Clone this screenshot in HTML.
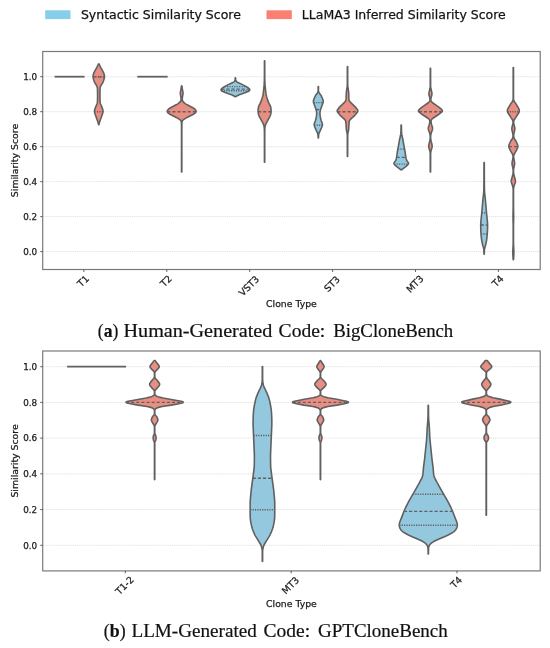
<!DOCTYPE html>
<html lang="en"><head><meta charset="utf-8"><title>Similarity score violin plots</title>
<style>html,body{margin:0;padding:0;background:#fff}svg{display:block}</style></head>
<body>
<svg width="550" height="648" viewBox="0 0 550 648">
<style>
text{font-family:"DejaVu Sans","Liberation Sans",sans-serif;fill:#1a1a1a;stroke:#1a1a1a;stroke-width:0.25px}
.tk{font-size:8.8px}
.tx{font-size:9.4px}
.al{font-size:9.5px}
.lg{font-size:12.5px;fill:#111}
.cap{font-family:"Liberation Serif","DejaVu Serif",serif;font-size:19px;fill:#111;stroke:#111;stroke-width:0.2px}
.cap .b{font-weight:bold}
</style>
<rect width="550" height="648" fill="#fff"/>
<rect x="45.2" y="10.3" width="25.3" height="8.8" fill="#87CEEB"/>
<text class="lg" x="80.9" y="19.3">Syntactic Similarity Score</text>
<rect x="266.5" y="10.3" width="25.3" height="8.8" fill="#FA8072"/>
<text class="lg" x="301.8" y="19.3">LLaMA3 Inferred Similarity Score</text>
<line x1="42.7" y1="251.60" x2="540.2" y2="251.60" stroke="#dedede" stroke-width="0.9" stroke-dasharray="1.1,0.8"/>
<line x1="42.7" y1="216.62" x2="540.2" y2="216.62" stroke="#dedede" stroke-width="0.9" stroke-dasharray="1.1,0.8"/>
<line x1="42.7" y1="181.64" x2="540.2" y2="181.64" stroke="#dedede" stroke-width="0.9" stroke-dasharray="1.1,0.8"/>
<line x1="42.7" y1="146.66" x2="540.2" y2="146.66" stroke="#dedede" stroke-width="0.9" stroke-dasharray="1.1,0.8"/>
<line x1="42.7" y1="111.68" x2="540.2" y2="111.68" stroke="#dedede" stroke-width="0.9" stroke-dasharray="1.1,0.8"/>
<line x1="42.7" y1="76.70" x2="540.2" y2="76.70" stroke="#dedede" stroke-width="0.9" stroke-dasharray="1.1,0.8"/>
<line x1="54.56" y1="76.70" x2="84.56" y2="76.70" stroke="#606060" stroke-width="1.8"/>
<path d="M98.56,124.59L98.30,123.39L97.75,121.59L96.23,117.19L94.90,113.58L94.58,112.38L94.46,111.38L94.53,110.38L94.79,109.38L95.60,107.18L97.06,103.78L97.39,102.58L97.50,100.38L97.57,95.78L97.53,91.38L97.42,88.18L97.22,87.18L96.74,85.97L96.21,84.97L94.99,83.17L94.06,80.97L93.64,79.77L93.30,78.57L93.11,77.57L93.04,76.57L93.08,75.77L93.21,74.97L93.42,74.17L93.77,73.17L94.53,71.57L97.24,66.57L97.95,64.97L98.25,63.97L99.26,63.97L99.57,64.97L100.27,66.57L102.99,71.57L103.74,73.17L104.10,74.17L104.31,74.97L104.43,75.77L104.47,76.57L104.40,77.57L104.22,78.57L103.88,79.77L103.46,80.97L102.53,83.17L101.31,84.97L100.77,85.97L100.30,87.18L100.10,88.18L99.99,91.38L99.95,95.78L100.01,100.38L100.13,102.58L100.45,103.78L101.92,107.18L102.73,109.38L102.99,110.38L103.05,111.38L102.93,112.38L102.62,113.58L101.29,117.19L99.76,121.59L99.22,123.39L98.96,124.59Z" fill="#e98e83" stroke="#606060" stroke-width="1.6" stroke-linejoin="round"/>
<line x1="94.48" y1="111.68" x2="103.03" y2="111.68" stroke="#606060" stroke-width="1.4" stroke-dasharray="1.2,1.2"/>
<line x1="93.05" y1="76.87" x2="104.46" y2="76.87" stroke="#606060" stroke-width="1.4" stroke-dasharray="3.1,2.0"/>
<line x1="93.05" y1="76.70" x2="104.47" y2="76.70" stroke="#606060" stroke-width="1.4" stroke-dasharray="1.2,1.2"/>
<line x1="137.28" y1="76.70" x2="167.67" y2="76.70" stroke="#606060" stroke-width="1.8"/>
<path d="M181.52,172.07L181.52,125.24L181.46,123.24L181.28,121.64L180.96,120.84L180.50,120.24L179.82,119.64L178.68,118.84L176.29,117.43L169.95,114.23L168.65,113.43L168,112.83L167.54,112.23L167.27,111.63L167.23,111.23L167.40,110.63L167.77,110.03L168.49,109.23L169.21,108.63L170.11,108.03L171.50,107.23L176.15,104.83L177.85,103.82L178.67,103.22L179.60,102.42L180.33,101.62L180.72,101.02L180.90,100.62L181.07,100.02L181.12,99.02L180.84,96.62L180.39,94.02L180.32,92.82L180.44,91.82L181.09,88.61L181.50,85.81L181.85,85.81L182.26,88.61L182.91,91.82L183.03,92.82L182.96,94.02L182.51,96.62L182.23,99.02L182.28,100.02L182.45,100.62L182.63,101.02L183.02,101.62L183.75,102.42L184.68,103.22L185.50,103.82L187.20,104.83L191.85,107.23L193.24,108.03L194.14,108.63L194.86,109.23L195.58,110.03L195.95,110.63L196.12,111.23L196.08,111.63L195.81,112.23L195.35,112.83L194.70,113.43L193.40,114.23L187.06,117.43L184.67,118.84L183.53,119.64L182.85,120.24L182.39,120.84L182.07,121.64L181.89,123.24L181.83,125.24L181.82,172.07Z" fill="#e98e83" stroke="#606060" stroke-width="1.6" stroke-linejoin="round"/>
<line x1="167.29" y1="111.68" x2="196.06" y2="111.68" stroke="#606060" stroke-width="1.4" stroke-dasharray="3.1,2.0"/>
<path d="M234.88,96.60L234.04,96L231.59,94.79L230.03,94.19L225.21,92.58L222.84,91.57L221.81,90.97L221.33,90.57L221.07,90.16L221.02,89.76L221.26,89.16L221.77,88.55L222.51,87.95L224.03,86.94L225.39,86.14L227.27,85.13L232.82,82.52L233.86,81.91L234.38,81.51L234.73,81.11L235,80.51L235.18,79.30L235.24,77.89L235.55,77.89L235.61,79.30L235.78,80.51L236.05,81.11L236.40,81.51L236.93,81.91L237.96,82.52L243.51,85.13L245.40,86.14L246.75,86.94L248.27,87.95L249.01,88.55L249.52,89.16L249.76,89.76L249.72,90.16L249.45,90.57L248.97,90.97L247.94,91.57L245.57,92.58L240.75,94.19L239.20,94.79L236.75,96L235.91,96.60Z" fill="#93c8de" stroke="#606060" stroke-width="1.6" stroke-linejoin="round"/>
<line x1="221.46" y1="90.69" x2="249.32" y2="90.69" stroke="#606060" stroke-width="1.4" stroke-dasharray="1.2,1.2"/>
<line x1="221.29" y1="89.12" x2="249.49" y2="89.12" stroke="#606060" stroke-width="1.4" stroke-dasharray="3.1,2.0"/>
<line x1="224.62" y1="86.58" x2="246.16" y2="86.58" stroke="#606060" stroke-width="1.4" stroke-dasharray="1.2,1.2"/>
<path d="M264.44,162.30L264.44,132.87L264.36,129.27L264.20,127.27L263.86,125.47L263.34,124.07L262.13,121.67L259.60,117.06L258.87,115.46L258.56,114.46L258.29,113.26L258.12,112.06L258.05,110.86L258.19,108.66L258.54,106.85L259.02,105.65L260.32,103.25L261.31,100.65L262.24,97.85L262.71,96.25L263.06,94.64L263.33,92.84L264.10,85.64L264.35,80.83L264.44,76.63L264.44,60.82L264.74,60.82L264.74,76.63L264.83,80.83L265.08,85.64L265.86,92.84L266.13,94.64L266.47,96.25L266.94,97.85L267.88,100.65L268.87,103.25L270.17,105.65L270.65,106.85L270.99,108.66L271.13,110.86L271.06,112.06L270.89,113.26L270.63,114.46L270.31,115.46L269.59,117.06L267.05,121.67L265.84,124.07L265.33,125.47L264.98,127.27L264.82,129.27L264.75,132.87L264.74,162.30Z" fill="#e98e83" stroke="#606060" stroke-width="1.6" stroke-linejoin="round"/>
<line x1="258.09" y1="111.68" x2="271.10" y2="111.68" stroke="#606060" stroke-width="1.4" stroke-dasharray="3.1,2.0"/>
<path d="M318.16,137.97L317.97,134.96L317.85,134.16L317.65,133.36L317.26,132.36L316.36,130.56L314.74,126.96L314.38,125.95L314.21,125.15L314.19,124.35L314.32,123.55L315.56,120.15L316.09,117.95L316.57,115.14L316.69,112.94L316.58,111.74L316.25,110.34L314.90,106.33L313.74,103.33L313.49,102.33L313.42,101.53L313.48,100.73L313.70,99.73L314.13,98.52L314.76,97.12L315.87,94.92L317.46,92.92L317.97,91.92L318.11,91.32L318.15,90.72L318.16,86.51L318.46,86.51L318.47,90.72L318.51,91.32L318.65,91.92L319.16,92.92L320.75,94.92L321.85,97.12L322.48,98.52L322.91,99.73L323.14,100.73L323.20,101.53L323.13,102.33L322.88,103.33L321.72,106.33L320.36,110.34L320.04,111.74L319.93,112.94L320.05,115.14L320.53,117.95L321.05,120.15L322.29,123.55L322.43,124.35L322.41,125.15L322.24,125.95L321.88,126.96L320.25,130.56L319.36,132.36L318.97,133.36L318.76,134.16L318.64,134.96L318.46,137.97Z" fill="#93c8de" stroke="#606060" stroke-width="1.6" stroke-linejoin="round"/>
<line x1="314.23" y1="125.32" x2="322.38" y2="125.32" stroke="#606060" stroke-width="1.4" stroke-dasharray="1.2,1.2"/>
<line x1="316.02" y1="109.58" x2="320.60" y2="109.58" stroke="#606060" stroke-width="1.4" stroke-dasharray="3.1,2.0"/>
<line x1="313.54" y1="102.59" x2="323.08" y2="102.59" stroke="#606060" stroke-width="1.4" stroke-dasharray="1.2,1.2"/>
<path d="M347.36,156.45L347.31,135.01L347.08,133.01L346.47,130L346.28,128.80L345.97,123.19L345.79,121.59L345.45,120.59L344.79,119.59L343.82,118.58L341.24,116.38L339.91,114.98L337.64,112.17L337.31,111.57L337.16,110.97L337.25,110.37L337.53,109.77L338.72,108.16L340.34,106.36L342.15,104.56L343.92,102.95L344.71,102.15L345.20,101.55L345.58,100.95L345.97,99.95L346.12,98.75L346.31,92.53L347.10,86.92L347.33,84.32L347.36,66.49L347.66,66.49L347.69,84.32L347.91,86.92L348.71,92.53L348.90,98.75L349.05,99.95L349.44,100.95L349.82,101.55L350.31,102.15L351.10,102.95L352.86,104.56L354.67,106.36L356.30,108.16L357.49,109.77L357.77,110.37L357.85,110.97L357.71,111.57L357.37,112.17L355.11,114.98L353.78,116.38L351.19,118.58L350.22,119.59L349.57,120.59L349.22,121.59L349.04,123.19L348.74,128.80L348.55,130L347.93,133.01L347.71,135.01L347.66,156.45Z" fill="#e98e83" stroke="#606060" stroke-width="1.6" stroke-linejoin="round"/>
<line x1="337.36" y1="111.68" x2="357.66" y2="111.68" stroke="#606060" stroke-width="1.4" stroke-dasharray="3.1,2.0"/>
<path d="M400.45,169.66L400.13,169.26L399.69,168.86L396.42,166.45L395.29,165.44L394.24,164.24L393.96,163.64L393.93,163.24L394.14,162.63L395.23,161.23L395.70,160.43L396.21,159.02L396.55,157.61L397.47,151.19L398.57,145.37L399.67,138.95L400.50,135.53L400.77,134.13L400.89,132.92L400.96,131.32L401.07,125.09L401.38,125.09L401.49,131.32L401.56,132.92L401.68,134.13L401.95,135.53L402.78,138.95L403.88,145.37L404.98,151.19L405.90,157.61L406.24,159.02L406.75,160.43L407.22,161.23L408.31,162.63L408.52,163.24L408.49,163.64L408.21,164.24L407.16,165.44L406.03,166.45L402.76,168.86L402.32,169.26L402,169.66Z" fill="#93c8de" stroke="#606060" stroke-width="1.6" stroke-linejoin="round"/>
<line x1="394.19" y1="164.15" x2="408.26" y2="164.15" stroke="#606060" stroke-width="1.4" stroke-dasharray="1.2,1.2"/>
<line x1="396.60" y1="157.33" x2="405.85" y2="157.33" stroke="#606060" stroke-width="1.4" stroke-dasharray="3.1,2.0"/>
<line x1="397.86" y1="149.11" x2="404.59" y2="149.11" stroke="#606060" stroke-width="1.4" stroke-dasharray="1.2,1.2"/>
<path d="M430.27,172.04L430.22,153.02L429.95,151.22L428.89,147.82L428.73,147.01L428.69,146.41L428.85,144.81L429.72,141.21L430.03,139.61L430.20,138.01L430.23,136.40L430.11,135.20L429.88,134L429.53,132.80L428.53,130L428.35,129.20L428.29,128.60L428.32,128L428.46,127.20L429.32,124.39L429.66,122.99L429.82,121.79L429.79,120.79L429.62,120.19L429.30,119.59L428.80,118.99L428.37,118.59L427.56,117.99L422.66,114.78L420.21,112.98L419.46,112.38L418.85,111.78L418.59,111.38L418.47,110.98L418.51,110.58L418.69,110.18L418.99,109.78L419.58,109.18L422.01,107.18L424.93,105.17L428.26,102.77L429.27,101.77L429.66,101.17L429.90,100.57L430.03,99.77L429.94,98.57L429.69,97.37L429.01,94.96L428.89,93.76L429.06,92.36L430,88.56L430.25,86.56L430.28,68.34L430.57,68.34L430.60,86.56L430.85,88.56L431.79,92.36L431.96,93.76L431.84,94.96L431.16,97.37L430.91,98.57L430.82,99.77L430.95,100.57L431.19,101.17L431.58,101.77L432.59,102.77L435.92,105.17L438.84,107.18L441.27,109.18L441.86,109.78L442.16,110.18L442.34,110.58L442.38,110.98L442.26,111.38L442,111.78L441.39,112.38L440.64,112.98L438.19,114.78L433.29,117.99L432.48,118.59L432.05,118.99L431.55,119.59L431.23,120.19L431.06,120.79L431.03,121.79L431.19,122.99L431.53,124.39L432.39,127.20L432.53,128L432.56,128.60L432.50,129.20L432.32,130L431.32,132.80L430.97,134L430.74,135.20L430.62,136.40L430.65,138.01L430.82,139.61L431.13,141.21L432,144.81L432.16,146.41L432.12,147.01L431.96,147.82L430.90,151.22L430.63,153.02L430.58,172.04Z" fill="#e98e83" stroke="#606060" stroke-width="1.6" stroke-linejoin="round"/>
<line x1="418.78" y1="111.68" x2="442.07" y2="111.68" stroke="#606060" stroke-width="1.4" stroke-dasharray="3.1,2.0"/>
<path d="M483.99,254.15L483.90,250.55L483.75,248.95L483.49,247.74L482.79,245.54L482.54,244.54L481.76,240.53L481.32,237.73L480.84,231.52L480.68,226.32L480.74,223.91L480.93,221.11L481.70,213.50L482.98,198.88L483.60,193.47L483.82,190.67L483.94,180.85L483.99,162.63L484.29,162.63L484.34,180.85L484.47,190.67L484.69,193.47L485.30,198.88L486.58,213.50L487.35,221.11L487.55,223.91L487.61,226.32L487.44,231.52L486.96,237.73L486.53,240.53L485.74,244.54L485.49,245.54L484.79,247.74L484.53,248.95L484.38,250.55L484.29,254.15Z" fill="#93c8de" stroke="#606060" stroke-width="1.6" stroke-linejoin="round"/>
<line x1="481.00" y1="233.94" x2="487.28" y2="233.94" stroke="#606060" stroke-width="1.4" stroke-dasharray="1.2,1.2"/>
<line x1="480.69" y1="225.02" x2="487.59" y2="225.02" stroke="#606060" stroke-width="1.4" stroke-dasharray="3.1,2.0"/>
<line x1="481.77" y1="212.77" x2="486.52" y2="212.77" stroke="#606060" stroke-width="1.4" stroke-dasharray="1.2,1.2"/>
<path d="M513.18,259.75L512.89,255.15L512.80,251.75L512.86,249.74L513.14,245.14L513.19,243.14L513.19,225.53L512.98,216.72L513.19,206.72L513.19,189.70L513.09,188.30L512.84,186.90L512.45,185.50L511.49,182.70L511.32,181.90L511.28,181.30L511.32,180.50L511.50,179.50L512.48,176.09L512.81,174.69L513.14,172.29L513.18,170.69L513.06,169.29L512.83,167.89L512.15,164.89L512,163.49L512.13,162.09L512.91,158.48L513.03,157.48L513.05,156.48L512.91,155.48L512.58,154.48L512.18,153.68L510.99,151.68L509.35,148.48L508.97,147.48L508.81,146.48L508.84,145.87L509,145.07L509.60,143.47L510.74,141.07L511.98,139.27L512.47,138.47L512.81,137.67L512.97,137.07L513.05,135.87L512.93,134.47L512.68,133.07L511.97,130.06L511.82,128.66L511.99,127.26L512.86,123.86L513.01,122.86L513.05,121.86L512.89,120.86L512.57,120.06L512.10,119.26L511.14,117.86L510.06,116.05L508.08,113.05L507.54,111.85L507.37,110.85L507.41,110.25L507.55,109.65L508.03,108.45L510.71,103.85L512.44,101.45L512.91,100.44L513.14,99.44L513.19,98.04L513.19,67.62L513.49,67.62L513.49,98.04L513.54,99.44L513.77,100.44L514.24,101.45L515.97,103.85L518.65,108.45L519.14,109.65L519.27,110.25L519.31,110.85L519.15,111.85L518.61,113.05L516.63,116.05L515.55,117.86L514.58,119.26L514.11,120.06L513.79,120.86L513.64,121.86L513.67,122.86L513.82,123.86L514.69,127.26L514.86,128.66L514.72,130.06L514,133.07L513.75,134.47L513.63,135.87L513.72,137.07L513.88,137.67L514.22,138.47L514.70,139.27L515.95,141.07L517.08,143.47L517.68,145.07L517.85,145.87L517.88,146.48L517.72,147.48L517.33,148.48L515.70,151.68L514.50,153.68L514.10,154.48L513.77,155.48L513.63,156.48L513.66,157.48L513.77,158.48L514.55,162.09L514.68,163.49L514.53,164.89L513.85,167.89L513.62,169.29L513.51,170.69L513.54,172.29L513.88,174.69L514.21,176.09L515.18,179.50L515.36,180.50L515.41,181.30L515.36,181.90L515.19,182.70L514.24,185.50L513.84,186.90L513.59,188.30L513.50,189.70L513.50,206.72L513.70,216.72L513.50,225.53L513.49,243.14L513.54,245.14L513.83,249.74L513.88,251.75L513.80,255.15L513.51,259.75Z" fill="#e98e83" stroke="#606060" stroke-width="1.6" stroke-linejoin="round"/>
<line x1="512.04" y1="164.15" x2="514.64" y2="164.15" stroke="#606060" stroke-width="1.4" stroke-dasharray="1.2,1.2"/>
<line x1="508.82" y1="146.66" x2="517.87" y2="146.66" stroke="#606060" stroke-width="1.4" stroke-dasharray="3.1,2.0"/>
<line x1="507.49" y1="111.68" x2="519.20" y2="111.68" stroke="#606060" stroke-width="1.4" stroke-dasharray="1.2,1.2"/>
<rect x="42.7" y="51.5" width="497.50000000000006" height="218.0" fill="none" stroke="#7a7a7a" stroke-width="1.2"/>
<line x1="40.300000000000004" y1="251.60" x2="42.7" y2="251.60" stroke="#5a5a5a" stroke-width="1"/>
<text x="37.2" y="254.80" text-anchor="end" class="tk">0.0</text>
<line x1="40.300000000000004" y1="216.62" x2="42.7" y2="216.62" stroke="#5a5a5a" stroke-width="1"/>
<text x="37.2" y="219.82" text-anchor="end" class="tk">0.2</text>
<line x1="40.300000000000004" y1="181.64" x2="42.7" y2="181.64" stroke="#5a5a5a" stroke-width="1"/>
<text x="37.2" y="184.84" text-anchor="end" class="tk">0.4</text>
<line x1="40.300000000000004" y1="146.66" x2="42.7" y2="146.66" stroke="#5a5a5a" stroke-width="1"/>
<text x="37.2" y="149.86" text-anchor="end" class="tk">0.6</text>
<line x1="40.300000000000004" y1="111.68" x2="42.7" y2="111.68" stroke="#5a5a5a" stroke-width="1"/>
<text x="37.2" y="114.88" text-anchor="end" class="tk">0.8</text>
<line x1="40.300000000000004" y1="76.70" x2="42.7" y2="76.70" stroke="#5a5a5a" stroke-width="1"/>
<text x="37.2" y="79.90" text-anchor="end" class="tk">1.0</text>
<line x1="83.86" y1="269.5" x2="83.86" y2="271.9" stroke="#5a5a5a" stroke-width="1"/>
<text class="tx" text-anchor="middle" transform="translate(83.06,280.90) rotate(-45)" dy="3.4">T1</text>
<line x1="166.77" y1="269.5" x2="166.77" y2="271.9" stroke="#5a5a5a" stroke-width="1"/>
<text class="tx" text-anchor="middle" transform="translate(165.97,280.90) rotate(-45)" dy="3.4">T2</text>
<line x1="249.69" y1="269.5" x2="249.69" y2="271.9" stroke="#5a5a5a" stroke-width="1"/>
<text class="tx" text-anchor="middle" transform="translate(248.89,285.90) rotate(-45)" dy="3.4">VST3</text>
<line x1="332.61" y1="269.5" x2="332.61" y2="271.9" stroke="#5a5a5a" stroke-width="1"/>
<text class="tx" text-anchor="middle" transform="translate(331.81,283.90) rotate(-45)" dy="3.4">ST3</text>
<line x1="415.52" y1="269.5" x2="415.52" y2="271.9" stroke="#5a5a5a" stroke-width="1"/>
<text class="tx" text-anchor="middle" transform="translate(414.72,283.90) rotate(-45)" dy="3.4">MT3</text>
<line x1="498.44" y1="269.5" x2="498.44" y2="271.9" stroke="#5a5a5a" stroke-width="1"/>
<text class="tx" text-anchor="middle" transform="translate(497.64,280.90) rotate(-45)" dy="3.4">T4</text>
<text class="al" text-anchor="middle" transform="translate(18.2,160.50) rotate(-90)" textLength="73.3" lengthAdjust="spacingAndGlyphs">Similarity Score</text>
<text class="al" text-anchor="middle" x="291.45" y="306.8" textLength="50.7" lengthAdjust="spacingAndGlyphs">Clone Type</text>
<line x1="42.7" y1="545.30" x2="540.2" y2="545.30" stroke="#dedede" stroke-width="0.9" stroke-dasharray="1.1,0.8"/>
<line x1="42.7" y1="509.58" x2="540.2" y2="509.58" stroke="#dedede" stroke-width="0.9" stroke-dasharray="1.1,0.8"/>
<line x1="42.7" y1="473.86" x2="540.2" y2="473.86" stroke="#dedede" stroke-width="0.9" stroke-dasharray="1.1,0.8"/>
<line x1="42.7" y1="438.14" x2="540.2" y2="438.14" stroke="#dedede" stroke-width="0.9" stroke-dasharray="1.1,0.8"/>
<line x1="42.7" y1="402.42" x2="540.2" y2="402.42" stroke="#dedede" stroke-width="0.9" stroke-dasharray="1.1,0.8"/>
<line x1="42.7" y1="366.70" x2="540.2" y2="366.70" stroke="#dedede" stroke-width="0.9" stroke-dasharray="1.1,0.8"/>
<line x1="67.12" y1="366.70" x2="126.12" y2="366.70" stroke="#606060" stroke-width="1.8"/>
<path d="M154.47,479.59L154.46,442.96L154.31,441.96L153.65,440.56L153.43,439.96L153.22,438.96L153.14,437.96L153.20,436.95L153.39,435.95L153.59,435.35L154.21,434.15L154.43,433.35L154.46,426.95L154.36,426.14L154.11,425.34L153.69,424.54L152.65,422.94L151.78,421.34L151.46,420.54L151.34,419.74L151.54,418.74L152.17,417.34L152.67,416.54L153.97,414.93L154.34,414.13L154.46,413.33L154.46,410.93L154.43,410.33L154.28,409.73L154.05,409.33L153.70,408.93L152.89,408.33L151.69,407.73L149.87,407.13L147.07,406.53L138.12,405.13L130.29,403.72L128.43,403.32L127,402.92L126.17,402.52L126.02,402.32L126.05,402.12L126.27,401.92L126.66,401.72L127.90,401.32L129.63,400.92L146.22,397.92L149.85,397.12L151.15,396.72L152.61,396.12L153.62,395.52L154.19,394.92L154.42,394.32L154.47,393.31L154.43,391.31L154.20,390.51L153.65,389.71L152.06,388.11L150.22,385.91L149.75,385.11L149.62,384.71L149.59,384.31L149.78,383.51L150.22,382.70L151.88,380.50L153.72,378.50L154.10,377.90L154.38,377.10L154.46,376.30L154.46,373.30L154.41,372.70L154.25,372.10L153.73,371.29L152.13,369.69L150.54,367.89L150.16,367.29L150,366.69L150.08,366.09L150.38,365.49L153.43,361.49L153.82,360.89L153.99,360.48L155.24,360.48L155.41,360.89L155.80,361.49L158.86,365.49L159.15,366.09L159.24,366.69L159.08,367.29L158.70,367.89L157.11,369.69L155.50,371.29L154.99,372.10L154.82,372.70L154.77,373.30L154.77,376.30L154.85,377.10L155.13,377.90L155.51,378.50L157.36,380.50L159.01,382.70L159.46,383.51L159.65,384.31L159.61,384.71L159.48,385.11L159.01,385.91L157.17,388.11L155.58,389.71L155.03,390.51L154.80,391.31L154.77,393.31L154.82,394.32L155.04,394.92L155.61,395.52L156.62,396.12L158.09,396.72L159.38,397.12L163.02,397.92L179.60,400.92L181.33,401.32L182.58,401.72L182.97,401.92L183.18,402.12L183.21,402.32L183.06,402.52L182.23,402.92L180.80,403.32L178.95,403.72L171.11,405.13L162.16,406.53L159.36,407.13L157.55,407.73L156.35,408.33L155.54,408.93L155.18,409.33L154.96,409.73L154.80,410.33L154.77,410.93L154.78,413.33L154.89,414.13L155.26,414.93L156.57,416.54L157.06,417.34L157.70,418.74L157.89,419.74L157.78,420.54L157.45,421.34L156.58,422.94L155.55,424.54L155.12,425.34L154.87,426.14L154.78,426.95L154.80,433.35L155.02,434.15L155.64,435.35L155.85,435.95L156.03,436.95L156.09,437.96L156.01,438.96L155.81,439.96L155.59,440.56L154.92,441.96L154.77,442.96L154.77,479.59Z" fill="#e98e83" stroke="#606060" stroke-width="1.6" stroke-linejoin="round"/>
<line x1="126.09" y1="402.42" x2="183.14" y2="402.42" stroke="#606060" stroke-width="1.4" stroke-dasharray="3.1,2.0"/>
<path d="M262.30,561.43L262.28,551.02L262.11,549.42L261.69,547.42L261.16,545.62L260.52,544.22L257.86,539.82L255.84,536.62L254.94,535.02L253.49,531.81L252.40,529.01L251.96,527.61L251.61,526.21L250.92,522.81L250.51,520.41L250.20,517.41L250.15,513.81L250.16,503L250.26,500.60L250.45,498L251.29,489.39L253.24,475.19L253.87,470.19L254.16,467.59L254.29,465.38L254.39,457.98L254.33,453.58L253.05,424.17L253.11,418.56L253.44,411.76L253.79,408.76L254.40,405.16L255.16,401.36L255.91,398.55L256.64,396.35L257.60,393.95L258.49,391.95L259.99,388.95L260.88,386.95L261.50,385.15L261.86,383.75L262.13,381.75L262.29,379.35L262.30,366.54L262.60,366.54L262.61,379.35L262.77,381.75L263.04,383.75L263.40,385.15L264.02,386.95L264.91,388.95L266.41,391.95L267.30,393.95L268.26,396.35L268.99,398.55L269.74,401.36L270.50,405.16L271.11,408.76L271.46,411.76L271.79,418.56L271.85,424.17L270.57,453.58L270.51,457.98L270.61,465.38L270.74,467.59L271.03,470.19L271.66,475.19L273.61,489.39L274.45,498L274.64,500.60L274.74,503L274.75,513.81L274.70,517.41L274.39,520.41L273.98,522.81L273.29,526.21L272.94,527.61L272.50,529.01L271.41,531.81L269.96,535.02L269.06,536.62L267.04,539.82L264.38,544.22L263.74,545.62L263.21,547.42L262.79,549.42L262.62,551.02L262.60,561.43Z" fill="#93c8de" stroke="#606060" stroke-width="1.6" stroke-linejoin="round"/>
<line x1="250.15" y1="509.76" x2="274.75" y2="509.76" stroke="#606060" stroke-width="1.4" stroke-dasharray="1.2,1.2"/>
<line x1="252.79" y1="478.32" x2="272.11" y2="478.32" stroke="#606060" stroke-width="1.4" stroke-dasharray="3.1,2.0"/>
<line x1="253.57" y1="435.46" x2="271.33" y2="435.46" stroke="#606060" stroke-width="1.4" stroke-dasharray="1.2,1.2"/>
<path d="M320.30,479.59L320.29,442.96L320.15,441.96L319.48,440.56L319.26,439.96L319.06,438.96L318.98,437.96L319.04,436.95L319.22,435.95L319.43,435.35L320.05,434.15L320.26,433.35L320.29,426.95L320.20,426.14L319.94,425.34L319.52,424.54L318.49,422.94L317.62,421.34L317.29,420.54L317.17,419.74L317.37,418.74L318.01,417.34L318.50,416.54L319.81,414.93L320.18,414.13L320.29,413.33L320.30,410.93L320.26,410.33L320.11,409.73L319.88,409.33L319.53,408.93L318.72,408.33L317.52,407.73L315.70,407.13L312.89,406.53L303.99,405.13L296.50,403.72L294.76,403.32L293.42,402.92L292.64,402.52L292.50,402.32L292.53,402.12L292.74,401.92L293.10,401.72L294.27,401.32L295.91,400.92L304.19,399.32L313.07,397.72L315.68,397.12L316.98,396.72L318.44,396.12L319.45,395.52L320.03,394.92L320.20,394.52L320.28,394.12L320.30,392.31L320.26,391.31L320.01,390.51L319.39,389.71L317.58,388.11L315.68,386.11L315.22,385.51L314.99,385.11L314.85,384.71L314.81,384.31L314.86,383.91L315,383.51L315.61,382.50L317.26,380.50L319.44,378.50L319.88,377.90L320.20,377.10L320.29,376.30L320.29,373.30L320.26,372.70L320.12,372.10L319.70,371.29L318.45,369.69L317.35,368.09L316.93,367.29L316.81,366.69L316.88,366.09L317.22,365.29L319.69,361.49L320.17,360.48L320.73,360.48L321.21,361.49L323.68,365.29L324.02,366.09L324.09,366.69L323.97,367.29L323.55,368.09L322.45,369.69L321.20,371.29L320.78,372.10L320.64,372.70L320.61,373.30L320.61,376.30L320.70,377.10L321.02,377.90L321.46,378.50L323.64,380.50L325.29,382.50L325.90,383.51L326.04,383.91L326.09,384.31L326.05,384.71L325.91,385.11L325.68,385.51L325.22,386.11L323.32,388.11L321.51,389.71L320.89,390.51L320.64,391.31L320.60,392.31L320.62,394.12L320.70,394.52L320.87,394.92L321.45,395.52L322.46,396.12L323.92,396.72L325.22,397.12L327.83,397.72L336.71,399.32L344.99,400.92L346.63,401.32L347.80,401.72L348.16,401.92L348.37,402.12L348.40,402.32L348.26,402.52L347.48,402.92L346.14,403.32L344.40,403.72L336.91,405.13L328.01,406.53L325.20,407.13L323.38,407.73L322.18,408.33L321.37,408.93L321.02,409.33L320.79,409.73L320.64,410.33L320.60,410.93L320.61,413.33L320.72,414.13L321.09,414.93L322.40,416.54L322.89,417.34L323.53,418.74L323.73,419.74L323.61,420.54L323.28,421.34L322.41,422.94L321.38,424.54L320.96,425.34L320.70,426.14L320.61,426.95L320.64,433.35L320.85,434.15L321.47,435.35L321.68,435.95L321.86,436.95L321.92,437.96L321.84,438.96L321.64,439.96L321.42,440.56L320.75,441.96L320.61,442.96L320.60,479.59Z" fill="#e98e83" stroke="#606060" stroke-width="1.6" stroke-linejoin="round"/>
<line x1="292.57" y1="402.42" x2="348.33" y2="402.42" stroke="#606060" stroke-width="1.4" stroke-dasharray="3.1,2.0"/>
<path d="M428.13,553.98L428.09,549.37L428,548.17L427.84,547.17L427.55,546.17L427.18,545.37L426.64,544.57L426.11,543.97L425.22,543.17L424.13,542.36L422.85,541.56L421.39,540.76L418.04,539.16L411.04,536.16L408.39,534.96L405.65,533.55L403.39,532.15L402.59,531.55L401.70,530.75L400.99,529.95L400.44,529.15L399.93,528.15L399.56,527.15L399.34,526.14L399.26,525.14L399.30,524.34L399.41,523.54L399.66,522.54L399.99,521.54L401.67,517.33L403.79,511.73L405.54,507.72L407.13,504.52L409.16,500.71L415.41,489.90L419.30,482.89L421.78,478.08L422.28,476.88L422.65,475.68L422.99,473.68L423.49,467.47L424.59,459.06L426.59,439.83L426.80,436.43L427.22,427.42L427.80,420.61L427.96,418L428.07,413L428.13,405.19L428.43,405.19L428.49,413L428.61,418L428.77,420.61L429.35,427.42L429.76,436.43L429.98,439.83L431.97,459.06L433.08,467.47L433.58,473.68L433.91,475.68L434.28,476.88L434.78,478.08L437.27,482.89L441.16,489.90L447.41,500.71L449.44,504.52L451.03,507.72L452.78,511.73L454.90,517.33L456.58,521.54L456.91,522.54L457.15,523.54L457.27,524.34L457.31,525.14L457.23,526.14L457,527.15L456.64,528.15L456.12,529.15L455.57,529.95L454.86,530.75L453.97,531.55L453.17,532.15L450.92,533.55L448.18,534.96L445.52,536.16L438.52,539.16L435.18,540.76L433.72,541.56L432.44,542.36L431.34,543.17L430.46,543.97L429.92,544.57L429.38,545.37L429.01,546.17L428.73,547.17L428.57,548.17L428.48,549.37L428.43,553.98Z" fill="#93c8de" stroke="#606060" stroke-width="1.6" stroke-linejoin="round"/>
<line x1="399.26" y1="525.21" x2="457.30" y2="525.21" stroke="#606060" stroke-width="1.4" stroke-dasharray="1.2,1.2"/>
<line x1="403.93" y1="511.37" x2="452.64" y2="511.37" stroke="#606060" stroke-width="1.4" stroke-dasharray="3.1,2.0"/>
<line x1="412.92" y1="494.22" x2="443.65" y2="494.22" stroke="#606060" stroke-width="1.4" stroke-dasharray="1.2,1.2"/>
<path d="M486.13,515.21L486.13,443.15L486.06,442.55L485.84,441.95L484.82,440.55L484.41,439.75L484.10,438.75L484,437.95L484.11,436.94L484.52,435.74L484.84,435.14L485.72,433.94L486.05,433.14L486.13,432.14L486.12,426.94L486.01,426.14L485.72,425.34L485.21,424.53L484.13,423.13L483.28,421.73L482.73,420.53L482.62,419.73L482.71,419.13L482.90,418.53L483.62,417.13L484.05,416.53L485.57,414.93L486,414.13L486.13,413.13L486.13,410.92L486.06,410.12L485.94,409.72L485.70,409.32L485.34,408.92L484.83,408.52L483.36,407.72L481.71,407.12L479.32,406.52L471.06,404.92L464.60,403.52L462.61,402.92L461.89,402.52L461.75,402.32L461.77,402.12L461.94,401.92L462.25,401.72L463.26,401.32L464.67,400.92L472.70,399.11L479.36,397.71L481.67,397.11L483.38,396.51L484.66,395.91L485.28,395.51L485.86,394.91L486.08,394.31L486.13,393.71L486.11,391.51L485.95,390.71L485.47,389.91L483.91,388.31L482.44,386.30L481.90,385.30L481.73,384.70L481.71,384.30L481.89,383.50L482.32,382.70L483.84,380.50L485.33,378.70L485.89,377.70L486.06,377.10L486.12,376.50L486.13,373.49L486.07,372.69L485.88,372.09L485.47,371.49L484.83,370.89L483.33,369.69L481.64,368.09L481.02,367.29L480.83,366.69L480.95,366.09L481.31,365.49L484.42,361.89L485.01,361.09L485.32,360.48L487.25,360.48L487.55,361.09L488.15,361.89L491.26,365.49L491.62,366.09L491.73,366.69L491.55,367.29L490.92,368.09L489.23,369.69L487.74,370.89L487.10,371.49L486.69,372.09L486.49,372.69L486.44,373.49L486.45,376.50L486.51,377.10L486.68,377.70L487.24,378.70L488.72,380.50L490.25,382.70L490.67,383.50L490.86,384.30L490.84,384.70L490.67,385.30L490.13,386.30L488.66,388.31L487.10,389.91L486.62,390.71L486.45,391.51L486.44,393.71L486.48,394.31L486.71,394.91L487.28,395.51L487.91,395.91L489.18,396.51L490.90,397.11L493.21,397.71L499.87,399.11L507.90,400.92L509.31,401.32L510.32,401.72L510.63,401.92L510.80,402.12L510.82,402.32L510.68,402.52L509.96,402.92L507.97,403.52L501.51,404.92L493.25,406.52L490.86,407.12L489.21,407.72L487.73,408.52L487.23,408.92L486.86,409.32L486.63,409.72L486.51,410.12L486.44,410.92L486.44,413.13L486.57,414.13L486.99,414.93L488.52,416.53L488.95,417.13L489.66,418.53L489.86,419.13L489.94,419.73L489.83,420.53L489.28,421.73L488.44,423.13L487.36,424.53L486.85,425.34L486.55,426.14L486.45,426.94L486.43,432.14L486.51,433.14L486.85,433.94L487.72,435.14L488.05,435.74L488.45,436.94L488.57,437.95L488.47,438.75L488.16,439.75L487.74,440.55L486.72,441.95L486.50,442.55L486.44,443.15L486.43,515.21Z" fill="#e98e83" stroke="#606060" stroke-width="1.6" stroke-linejoin="round"/>
<line x1="461.82" y1="402.42" x2="510.75" y2="402.42" stroke="#606060" stroke-width="1.4" stroke-dasharray="3.1,2.0"/>
<rect x="42.7" y="351.0" width="497.50000000000006" height="219.89999999999998" fill="none" stroke="#7a7a7a" stroke-width="1.2"/>
<line x1="40.300000000000004" y1="545.30" x2="42.7" y2="545.30" stroke="#5a5a5a" stroke-width="1"/>
<text x="37.2" y="548.50" text-anchor="end" class="tk">0.0</text>
<line x1="40.300000000000004" y1="509.58" x2="42.7" y2="509.58" stroke="#5a5a5a" stroke-width="1"/>
<text x="37.2" y="512.78" text-anchor="end" class="tk">0.2</text>
<line x1="40.300000000000004" y1="473.86" x2="42.7" y2="473.86" stroke="#5a5a5a" stroke-width="1"/>
<text x="37.2" y="477.06" text-anchor="end" class="tk">0.4</text>
<line x1="40.300000000000004" y1="438.14" x2="42.7" y2="438.14" stroke="#5a5a5a" stroke-width="1"/>
<text x="37.2" y="441.34" text-anchor="end" class="tk">0.6</text>
<line x1="40.300000000000004" y1="402.42" x2="42.7" y2="402.42" stroke="#5a5a5a" stroke-width="1"/>
<text x="37.2" y="405.62" text-anchor="end" class="tk">0.8</text>
<line x1="40.300000000000004" y1="366.70" x2="42.7" y2="366.70" stroke="#5a5a5a" stroke-width="1"/>
<text x="37.2" y="369.90" text-anchor="end" class="tk">1.0</text>
<line x1="125.32" y1="570.9" x2="125.32" y2="573.3" stroke="#5a5a5a" stroke-width="1"/>
<text class="tx" text-anchor="middle" transform="translate(124.52,585.30) rotate(-45)" dy="3.4">T1-2</text>
<line x1="291.15" y1="570.9" x2="291.15" y2="573.3" stroke="#5a5a5a" stroke-width="1"/>
<text class="tx" text-anchor="middle" transform="translate(290.35,585.30) rotate(-45)" dy="3.4">MT3</text>
<line x1="456.98" y1="570.9" x2="456.98" y2="573.3" stroke="#5a5a5a" stroke-width="1"/>
<text class="tx" text-anchor="middle" transform="translate(456.18,582.30) rotate(-45)" dy="3.4">T4</text>
<text class="al" text-anchor="middle" transform="translate(18.2,460.95) rotate(-90)" textLength="73.3" lengthAdjust="spacingAndGlyphs">Similarity Score</text>
<text class="al" text-anchor="middle" x="291.45" y="606.7" textLength="50.7" lengthAdjust="spacingAndGlyphs">Clone Type</text>
<text class="cap" y="337" xml:space="preserve"><tspan x="97.8" textLength="20.5" lengthAdjust="spacingAndGlyphs">(<tspan class="b">a</tspan>)</tspan> <tspan x="123.5" textLength="148.9" lengthAdjust="spacingAndGlyphs">Human-Generated</tspan> <tspan x="278.6" textLength="46.7" lengthAdjust="spacingAndGlyphs">Code:</tspan> <tspan x="333.2" textLength="120.1" lengthAdjust="spacingAndGlyphs">BigCloneBench</tspan></text>
<text class="cap" y="637" xml:space="preserve"><tspan x="103.8" textLength="21.8" lengthAdjust="spacingAndGlyphs">(<tspan class="b">b</tspan>)</tspan> <tspan x="131.5" textLength="125.3" lengthAdjust="spacingAndGlyphs">LLM-Generated</tspan> <tspan x="263.5" textLength="46.6" lengthAdjust="spacingAndGlyphs">Code:</tspan> <tspan x="318" textLength="129.8" lengthAdjust="spacingAndGlyphs">GPTCloneBench</tspan></text>
</svg>
</body></html>
